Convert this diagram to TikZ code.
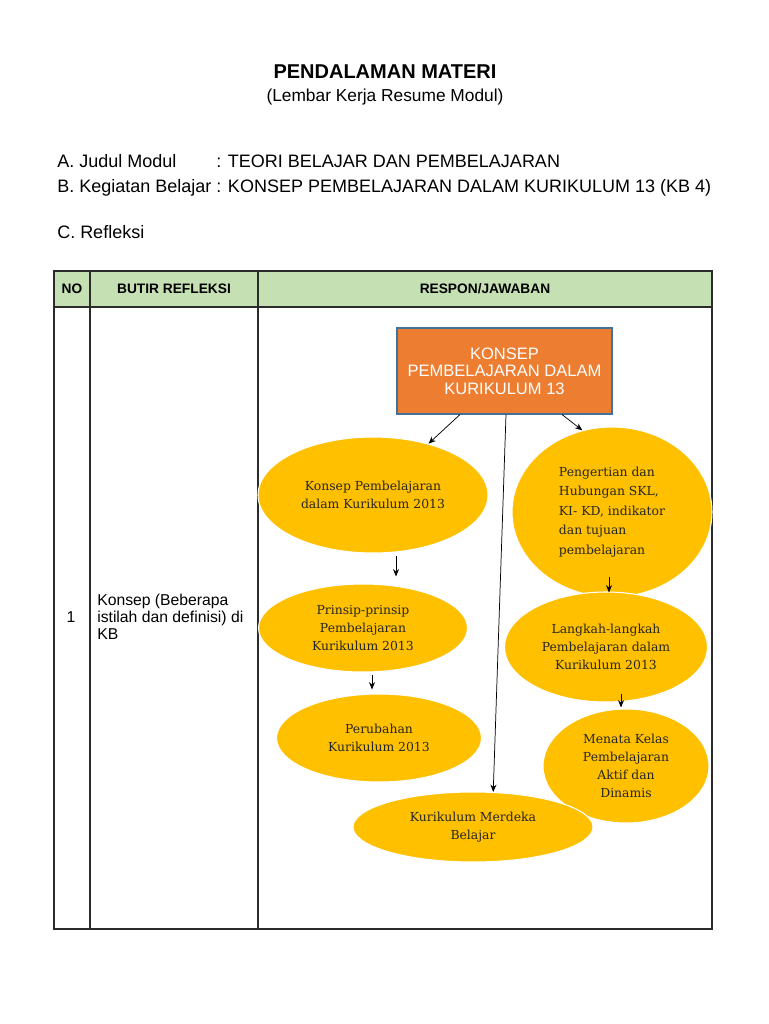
\documentclass[tikz,border=0pt]{standalone}
\usepackage{fontspec}
\setmainfont{Liberation Sans}
\newfontfamily\serifell{DejaVu Serif}
\usetikzlibrary{shapes.geometric,arrows.meta}
\newdimen\pxu \pxu=0.75pt
\definecolor{ellfill}{HTML}{FFC000}
\definecolor{boxfill}{HTML}{ED7D31}
\definecolor{boxline}{HTML}{41719C}
\definecolor{headfill}{HTML}{C5E0B3}
\definecolor{tabline}{HTML}{2B2B2B}
\begin{document}
\begin{tikzpicture}[x=0.75pt,y=-0.75pt,
  ell/.style={ellipse, fill=ellfill, draw=white, line width=0.8pt, inner sep=0pt, align=center,
    font=\serifell\fontsize{9.3}{13.5}\selectfont, text=black!85},
  arr/.style={-{Stealth[length=5.5pt,width=4.5pt]}, line width=0.55pt, draw=black},
  tline/.style={line width=0.9pt, draw=tabline},
  hd/.style={font=\bfseries\fontsize{10.3}{12}\selectfont},
  body/.style={font=\fontsize{13.5}{16}\selectfont, anchor=base west, inner sep=0pt}]
\useasboundingbox (0,0) rectangle (768,1024);
\fill[white] (0,0) rectangle (768,1024);

% heading
\node[font=\bfseries\fontsize{15}{18}\selectfont] (title) at (385,72) {PENDALAMAN MATERI};
\node[font=\fontsize{13}{16}\selectfont] (sub) at (385,97) {(Lembar Kerja Resume Modul)};
\node[body] (la) at (57,167) {A. Judul Modul};
\node[body] (lac) at (216,167) {: TEORI BELAJAR DAN PEMBELAJARAN};
\node[body] (lb) at (57,192) {B. Kegiatan Belajar : KONSEP PEMBELAJARAN DALAM KURIKULUM 13 (KB 4)};
\node[body] (lc) at (57,238) {C. Refleksi};

% table
\fill[headfill] (54,271) rectangle (712,307);
\draw[tline] (54,271) rectangle (712,929);
\draw[tline] (54,307) -- (712,307);
\draw[tline] (90,271) -- (90,929);
\draw[tline] (258,271) -- (258,929);
\node[hd] (hno) at (72,289) {NO};
\node[hd] (hbr) at (174,289) {BUTIR REFLEKSI};
\node[hd] (hrj) at (485,289) {RESPON/JAWABAN};
\node[font=\fontsize{11.8}{12.75}\selectfont] (n1) at (71,617) {1};
\node[font=\fontsize{11.8}{12.75}\selectfont, anchor=west, align=left, inner sep=0pt] (b1) at (97,617)
  {Konsep (Beberapa\\istilah dan definisi) di\\KB};

% diagram
\node[rectangle, fill=boxfill, draw=boxline, line width=0.8pt, minimum width=215\pxu, minimum height=86\pxu,
  align=center, text=white, font=\fontsize{12.4}{13.2}\selectfont] (box) at (504.5,371)
  {KONSEP\\PEMBELAJARAN DALAM\\KURIKULUM 13};
\node[ell, minimum width=230\pxu, minimum height=116\pxu] (e1) at (373,495)
  {Konsep Pembelajaran\\dalam Kurikulum 2013};
\node[ell, minimum width=200\pxu, minimum height=170\pxu, align=left, font=\serifell\fontsize{9.3}{14.6}\selectfont] (er) at (612,512)
  {Pengertian dan\\Hubungan SKL,\\KI- KD, indikator\\dan tujuan\\pembelajaran};
\node[ell, minimum width=203\pxu, minimum height=110\pxu] (e5) at (606,647)
  {Langkah-langkah\\Pembelajaran dalam\\Kurikulum 2013};
\node[ell, minimum width=166\pxu, minimum height=114\pxu] (e6) at (626,766)
  {Menata Kelas\\Pembelajaran\\Aktif dan\\Dinamis};
\node[ell, minimum width=209\pxu, minimum height=88\pxu] (e2) at (363,628)
  {Prinsip-prinsip\\Pembelajaran\\Kurikulum 2013};
\node[ell, minimum width=205\pxu, minimum height=88\pxu] (e3) at (379,738)
  {Perubahan\\Kurikulum 2013};
\node[ell, minimum width=240\pxu, minimum height=70\pxu] (km) at (473,827)
  {Kurikulum Merdeka\\Belajar};

% connectors
\draw[arr] ([xshift=-44.5\pxu]box.south) -- (e1);
\draw[arr] ([xshift=57.5\pxu]box.south) -- (er.110);
\draw[arr] ([xshift=1.5\pxu]box.south) -- (km.60);
\draw[arr] ([xshift=23\pxu,yshift=-2\pxu]e1.south) -- ([xshift=33\pxu,yshift=7\pxu]e2.north);
\draw[arr] ([xshift=9\pxu,yshift=-2\pxu]e2.south) -- ([xshift=-7\pxu,yshift=4\pxu]e3.north);
\draw[arr] ([xshift=-3\pxu,yshift=21\pxu]er.south) -- ([xshift=3\pxu,yshift=-1\pxu]e5.north);
\draw[arr] ([xshift=15\pxu,yshift=9\pxu]e5.south) -- ([xshift=-5\pxu,yshift=1\pxu]e6.north);
\end{tikzpicture}
\end{document}
